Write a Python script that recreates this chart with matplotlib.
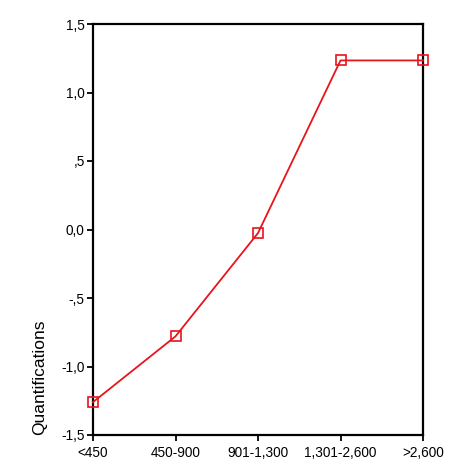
import matplotlib
matplotlib.use("Agg")
import matplotlib.pyplot as plt
from matplotlib.ticker import FuncFormatter

categories = ["<450", "450-900", "901-1,300", "1,301-2,600", ">2,600"]
values = [-1.26, -0.78, -0.026, 1.234, 1.234]
yticks = [-1.5, -1.0, -0.5, 0.0, 0.5, 1.0, 1.5]

plt.rcParams['font.family'] = ['Liberation Sans', 'DejaVu Sans']

fig = plt.figure(figsize=(4.74, 4.74), dpi=100)
ax = fig.add_axes([93/474, 1 - 435/474, (423-93)/474, (435-24)/474])

x = list(range(len(categories)))
ax.plot(x, values, color='#e8141c', lw=1.3, marker='s', markersize=6.5,
        markerfacecolor='none', markeredgecolor='#e8141c', markeredgewidth=1.2,
        clip_on=False, zorder=3)

ax.set_xlim(0, len(categories) - 1)
ax.set_ylim(-1.5, 1.5)
ax.set_xticks(x)
ax.set_xticklabels(categories, fontsize=9.8)
ax.set_yticks(yticks)

def fmt(v, pos):
    s = f"{v:.1f}".replace('.', ',')
    if s.startswith('0,') and v != 0:
        s = s[1:]
    if s.startswith('-0,'):
        s = '-' + s[2:]
    return s

ax.yaxis.set_major_formatter(FuncFormatter(fmt))
ax.tick_params(axis='both', direction='out', length=4, width=1.3, labelsize=9.8, pad=2)
ax.tick_params(axis='x', pad=4)
for sp in ax.spines.values():
    sp.set_linewidth(1.6)
    sp.set_color('black')

ax.set_ylabel("Quantifications", fontsize=12.5, loc='bottom', labelpad=10)

fig.savefig("out.png", dpi=100)
